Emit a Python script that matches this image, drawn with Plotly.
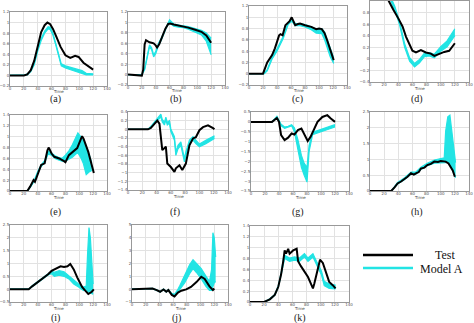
import plotly.graph_objects as go

W, H = 474, 323
CYAN = '#22e4e4'
BLACK = '#000000'

# ---------------- data ----------------
A_T = [0, 20, 25, 30, 35, 40, 45, 50, 54, 58, 62, 67, 73, 80, 87, 94, 99, 106, 113, 120]
A_TEST = [0, 0, 0.02, 0.1, 0.28, 0.58, 0.82, 0.95, 1.0, 0.97, 0.88, 0.73, 0.54, 0.38, 0.33, 0.37, 0.35, 0.24, 0.18, 0.11]
A_MT = [0, 20, 25, 30, 35, 40, 45, 50, 55, 58, 62, 66, 70, 74, 80, 87, 97, 104, 110, 120]
A_LO = [0, 0, 0.01, 0.07, 0.2, 0.46, 0.66, 0.8, 0.88, 0.87, 0.76, 0.58, 0.36, 0.18, 0.14, 0.11, 0.08, 0.05, 0.01, 0.01]
A_HI = [0, 0, 0.03, 0.09, 0.24, 0.5, 0.7, 0.84, 0.92, 0.91, 0.8, 0.62, 0.4, 0.22, 0.18, 0.15, 0.12, 0.09, 0.04, 0.03]

B_T = [0, 20, 22, 24, 26, 28, 31, 34, 37, 40, 42, 45, 49, 54, 58, 61, 66, 73, 80, 87, 97, 106, 113, 120]
B_TEST = [0, -0.02, 0.1, 0.58, 0.66, 0.64, 0.62, 0.61, 0.6, 0.56, 0.52, 0.58, 0.71, 0.88, 0.97, 0.98, 0.96, 0.94, 0.93, 0.9, 0.86, 0.82, 0.75, 0.61]
B_MT = [0, 20, 24, 28, 31, 34, 37, 40, 44, 48, 52, 56, 60, 63, 66, 73, 80, 87, 97, 106, 113, 120]
B_LO = [0, 0, 0.09, 0.33, 0.53, 0.48, 0.34, 0.4, 0.56, 0.66, 0.78, 0.92, 0.99, 0.95, 0.93, 0.91, 0.9, 0.87, 0.82, 0.76, 0.64, 0.38]
B_HI = [0, 0, 0.11, 0.37, 0.57, 0.52, 0.38, 0.44, 0.6, 0.7, 0.82, 0.96, 1.05, 1.01, 0.97, 0.95, 0.94, 0.92, 0.88, 0.85, 0.8, 0.7]

C_T = [0, 20, 26, 33, 37, 40, 43, 45, 48, 52, 55, 58, 61, 63, 66, 70, 73, 80, 89, 96, 100, 104, 108, 112, 116, 121]
C_TEST = [0, 0, 0.2, 0.33, 0.45, 0.58, 0.68, 0.7, 0.68, 0.86, 0.9, 0.93, 1.0, 0.94, 0.86, 0.88, 0.89, 0.86, 0.83, 0.79, 0.8, 0.79, 0.72, 0.58, 0.42, 0.24]
C_MT = [0, 20, 22, 26, 33, 40, 49, 56, 61, 66, 73, 80, 89, 96, 104, 108, 112, 116, 121]
C_LO = [0, 0, 0.0, 0.05, 0.26, 0.4, 0.63, 0.87, 0.93, 0.85, 0.85, 0.83, 0.78, 0.72, 0.71, 0.6, 0.44, 0.3, 0.18]
C_HI = [0, 0, 0.02, 0.07, 0.3, 0.44, 0.67, 0.91, 0.97, 0.89, 0.89, 0.87, 0.83, 0.79, 0.8, 0.74, 0.6, 0.44, 0.28]

D_T = [20, 26, 33, 40, 46, 51, 56, 60, 65, 72, 79, 86, 91, 98, 105, 112, 120]
D_TEST = [1.15, 1.0, 0.85, 0.7, 0.56, 0.38, 0.23, 0.14, 0.11, 0.15, 0.11, 0.09, 0.05, 0.09, 0.12, 0.14, 0.27]
D_MT = [25, 30, 35, 42, 49, 56, 63, 70, 77, 84, 91, 100, 109, 120]
D_LO = [1.12, 0.97, 0.85, 0.58, 0.2, -0.04, -0.14, -0.07, 0.04, 0.05, 0.02, 0.13, 0.21, 0.4]
D_HI = [1.18, 1.03, 0.91, 0.64, 0.26, 0.02, -0.08, -0.01, 0.1, 0.11, 0.08, 0.21, 0.31, 0.52]

E_T = [0, 25, 29, 34, 36, 41, 45, 50, 54, 56, 60, 64, 71, 78, 80, 85, 90, 97, 104, 106, 113, 121]
E_TEST = [0, 0, 0.08, 0.2, 0.17, 0.36, 0.48, 0.51, 0.75, 0.8, 0.69, 0.63, 0.6, 0.55, 0.53, 0.66, 0.72, 0.79, 1.01, 0.97, 0.72, 0.33]
E_MT = [0, 25, 30, 35, 40, 45, 50, 55, 60, 65, 70, 75, 80, 85, 90, 95, 98, 102, 106, 110, 114, 118]
E_LO = [0, 0, 0.08, 0.18, 0.33, 0.45, 0.52, 0.68, 0.66, 0.6, 0.57, 0.55, 0.55, 0.58, 0.62, 0.68, 0.7, 0.62, 0.5, 0.3, 0.35, 0.38]
E_HI = [0, 0, 0.1, 0.2, 0.36, 0.48, 0.56, 0.74, 0.7, 0.65, 0.62, 0.6, 0.66, 0.74, 0.85, 0.98, 1.07, 1.0, 0.92, 0.78, 0.68, 0.52]

F_T = [0, 28, 32, 37, 41, 44, 46, 48, 53, 55, 60, 65, 67, 72, 76, 81, 86, 91, 95, 100, 105, 112, 119, 121]
F_TEST = [0, 0, 0.03, 0.13, 0.2, 0.13, -0.18, -0.48, -0.4, -0.79, -0.87, -0.98, -0.9, -0.83, -0.94, -0.79, -0.37, -0.21, -0.18, -0.02, 0.05, 0.09, 0.03, 0.0]
F_MT = [0, 28, 34, 41, 46, 48, 51, 53, 55, 58, 60, 65, 67, 70, 74, 79, 81, 86, 91, 95, 100, 109, 121]
F_LO = [0, 0, 0.07, 0.2, 0.29, 0.17, 0.1, 0.22, 0.1, 0.14, -0.05, -0.25, -0.6, -0.45, -0.37, -0.75, -0.6, -0.33, -0.25, -0.33, -0.4, -0.33, -0.21]
F_HI = [0, 0, 0.11, 0.26, 0.35, 0.23, 0.16, 0.28, 0.16, 0.2, 0.01, -0.17, -0.52, -0.37, -0.29, -0.67, -0.52, -0.25, -0.17, -0.25, -0.34, -0.25, -0.15]

G_T = [0, 30, 37, 40, 43, 48, 53, 58, 62, 67, 72, 76, 81, 85, 90, 95, 102, 109, 114, 120]
G_TEST = [0, 0, 0.2, 0, -0.67, -0.92, -0.8, -0.59, -0.64, -0.42, -0.34, -0.59, -0.97, -0.76, -0.34, 0, 0.25, 0.34, 0.17, 0]
G_MT = [0, 30, 37, 43, 48, 53, 58, 62, 67, 72, 76, 80, 83, 88, 95, 102, 111, 120]
G_LO = [0, 0, 0.22, -0.2, -0.33, -0.28, -0.2, -0.5, -1.4, -2.3, -2.7, -3.05, -1.5, -0.65, -0.56, -0.48, -0.36, -0.26]
G_HI = [0, 0, 0.28, -0.12, -0.26, -0.22, -0.14, -0.3, -0.9, -1.7, -2.1, -2.3, -1.2, -0.52, -0.44, -0.36, -0.24, -0.14]

H_T = [0, 30, 35, 39, 44, 49, 53, 58, 62, 65, 69, 72, 77, 81, 86, 91, 96, 100, 104, 107, 111, 114, 117, 120]
H_TEST = [0, 0, 0.12, 0.24, 0.3, 0.38, 0.45, 0.56, 0.52, 0.56, 0.6, 0.71, 0.74, 0.82, 0.86, 0.93, 0.92, 0.95, 0.94, 0.93, 0.87, 0.77, 0.65, 0.45]
H_MT = [0, 30, 39, 49, 58, 65, 72, 81, 91, 100, 105, 107, 110, 113, 116, 119, 121]
H_LO = [0, 0, 0.22, 0.36, 0.53, 0.53, 0.68, 0.8, 0.88, 0.9, 0.9, 0.9, 0.95, 0.85, 0.7, 0.5, 0.42]
H_HI = [0, 0, 0.27, 0.42, 0.6, 0.6, 0.75, 0.88, 0.98, 1.03, 1.05, 1.9, 2.35, 2.4, 1.9, 1.3, 0.9]

I_T = [0, 27, 32, 36, 41, 46, 50, 55, 60, 64, 69, 73, 78, 83, 87, 92, 97, 104, 108, 113, 118, 121]
I_TEST = [0, 0, 0.11, 0.19, 0.31, 0.4, 0.46, 0.58, 0.71, 0.77, 0.85, 0.89, 0.86, 0.89, 0.98, 0.77, 0.46, 0.09, -0.04, -0.19, -0.1, -0.01]
I_MT = [0, 27, 32, 36, 41, 46, 50, 55, 60, 64, 71, 78, 85, 92, 99, 106, 110, 112, 114, 116, 118, 120]
I_LO = [0, 0, 0.09, 0.17, 0.29, 0.38, 0.44, 0.55, 0.6, 0.5, 0.55, 0.5, 0.4, 0.2, 0.08, -0.05, 0.0, -0.1, -0.12, -0.15, -0.2, -0.2]
I_HI = [0, 0, 0.13, 0.21, 0.33, 0.42, 0.48, 0.6, 0.7, 0.66, 0.72, 0.68, 0.52, 0.33, 0.2, 0.08, 0.12, 1.4, 2.4, 2.0, 1.2, 0.2]

J_T = [0, 30, 36, 41, 46, 50, 53, 58, 62, 67, 72, 79, 86, 94, 101, 106, 113, 118, 120]
J_TEST = [0, 0.05, -0.07, -0.2, -0.02, -0.2, -0.07, -0.45, -0.57, -0.27, -0.12, -0.02, 0.17, 0.55, 0.97, 0.8, 0.22, -0.07, 0.05]
J_MT = [0, 30, 36, 41, 46, 50, 53, 58, 62, 66, 70, 77, 84, 89, 94, 101, 108, 113, 116, 118, 120, 122]
J_LO = [0, 0.03, -0.1, -0.22, -0.05, -0.22, -0.1, -0.4, -0.5, -0.3, 0.0, 0.5, 1.2, 1.6, 1.3, 0.8, 0.2, -0.1, -0.1, 0.3, 0.5, 0.6]
J_HI = [0, 0.07, -0.04, -0.18, 0.01, -0.18, -0.04, -0.33, -0.4, -0.1, 0.3, 1.1, 1.9, 2.3, 2.0, 1.6, 1.0, 0.6, 1.5, 4.4, 4.0, 2.5]

K_T = [0, 20, 28, 35, 40, 44, 47, 49, 51, 54, 56, 61, 66, 68, 72, 77, 82, 87, 89, 91, 96, 99, 103, 108, 112, 117, 121]
K_TEST = [0, 0, 0.05, 0.13, 0.28, 0.51, 0.75, 0.95, 0.89, 0.98, 0.89, 0.95, 0.98, 0.75, 0.66, 0.57, 0.46, 0.31, 0.25, 0.34, 0.63, 0.78, 0.72, 0.51, 0.37, 0.31, 0.25]
K_MT = [0, 20, 28, 35, 40, 44, 47, 49, 56, 63, 70, 77, 82, 89, 94, 101, 105, 112, 121]
K_LO = [0, 0, 0.04, 0.12, 0.27, 0.5, 0.72, 0.8, 0.75, 0.77, 0.75, 0.83, 0.75, 0.83, 0.69, 0.5, 0.3, 0.25, 0.24]
K_HI = [0, 0, 0.06, 0.14, 0.3, 0.53, 0.78, 0.86, 0.81, 0.83, 0.81, 0.89, 0.81, 0.89, 0.75, 0.57, 0.38, 0.33, 0.31]

PANEL_LABELS = ['(a)', '(b)', '(c)', '(d)', '(e)', '(f)', '(g)', '(h)', '(i)', '(j)', '(k)']
LEGEND_NAMES = ['Test', 'Model A']
X_TITLE = 'Time'

# ---------------- layout (pixels) ----------------
panels = [
    (A_T, A_TEST, A_MT, A_LO, A_HI, (-0.2, 1.2), 0.2, (10, 12, 107, 86), (55, 99)),
    (B_T, B_TEST, B_MT, B_LO, B_HI, (-0.2, 1.2), 0.2, (128, 12, 225, 85), (176, 99)),
    (C_T, C_TEST, C_MT, C_LO, C_HI, (-0.2, 1.2), 0.2, (249, 6, 347, 85), (297, 99)),
    (D_T, D_TEST, D_MT, D_LO, D_HI, (-0.4, 1.0), 0.2, (370, 1, 469, 82), (417, 99)),
    (E_T, E_TEST, E_MT, E_LO, E_HI, (0, 1.4), 0.2, (10, 115, 107, 191), (55, 212)),
    (F_T, F_TEST, F_MT, F_LO, F_HI, (-1.4, 0.4), 0.2, (128, 112, 228, 190), (175, 212)),
    (G_T, G_TEST, G_MT, G_LO, G_HI, (-3.5, 0.5), 0.5, (251, 112, 349, 191), (298, 212)),
    (H_T, H_TEST, H_MT, H_LO, H_HI, (0, 2.5), 0.5, (370, 112, 469, 191), (417, 212)),
    (I_T, I_TEST, I_MT, I_LO, I_HI, (-0.5, 2.5), 0.5, (10, 225, 107, 302), (55, 318)),
    (J_T, J_TEST, J_MT, J_LO, J_HI, (-1, 5), 1, (132, 225, 228, 302), (176, 318)),
    (K_T, K_TEST, K_MT, K_LO, K_HI, (0, 1.4), 0.2, (250, 226, 349, 302), (300, 318)),
]

fig = go.Figure()
annotations = []
for i, (t, y, mt, lo, hi, yr, dt, box, lab) in enumerate(panels):
    sfx = '' if i == 0 else str(i + 1)
    xa, ya = 'x' + sfx, 'y' + sfx
    fig.add_trace(go.Scatter(x=mt, y=lo, mode='lines', line=dict(color=CYAN, width=1.2),
                             xaxis=xa, yaxis=ya, hoverinfo='skip'))
    fig.add_trace(go.Scatter(x=mt, y=hi, mode='lines', line=dict(color=CYAN, width=1.2),
                             fill='tonexty', fillcolor=CYAN, xaxis=xa, yaxis=ya, hoverinfo='skip'))
    fig.add_trace(go.Scatter(x=t, y=y, mode='lines', line=dict(color=BLACK, width=2),
                             xaxis=xa, yaxis=ya, hoverinfo='skip'))
    x0, y0, x1, y1 = box
    common = dict(showline=True, mirror=True, linecolor='#999', linewidth=1,
                  showgrid=True, gridcolor='#e2e2e2', gridwidth=1, zeroline=False,
                  tickfont=dict(size=4, color='#555', family='DejaVu Sans'), ticks='')
    fig.layout['xaxis' + sfx] = dict(domain=[x0 / W, x1 / W], range=[0, 140], dtick=20, tick0=0,
                                     anchor=ya, automargin=False, ticklabelstandoff=-2, **common)
    fig.layout['yaxis' + sfx] = dict(domain=[1 - y1 / H, 1 - y0 / H], range=list(yr), dtick=dt, tick0=0,
                                     anchor=xa, automargin=False, ticklabelstandoff=-1, **common)
    annotations.append(dict(x=(x0 + x1) / 2 / W, y=1 - (y1 + 6) / H, xref='paper', yref='paper',
                            text=X_TITLE, showarrow=False, xanchor='center', yanchor='middle',
                            font=dict(size=4, color='#444', family='DejaVu Sans')))
    annotations.append(dict(x=lab[0] / W, y=1 - lab[1] / H, xref='paper', yref='paper',
                            text=PANEL_LABELS[i], showarrow=False, xanchor='center', yanchor='middle',
                            font=dict(family='Liberation Serif', size=10, color='#222')))

# legend drawn in paper space
shapes = [
    dict(type='line', xref='paper', yref='paper', x0=363 / W, x1=413 / W, y0=1 - 255 / H, y1=1 - 255 / H,
         line=dict(color=BLACK, width=2.5)),
    dict(type='line', xref='paper', yref='paper', x0=363 / W, x1=413 / W, y0=1 - 268 / H, y1=1 - 268 / H,
         line=dict(color=CYAN, width=2.5)),
]
annotations.append(dict(x=445 / W, y=1 - 255 / H, xref='paper', yref='paper', text=LEGEND_NAMES[0],
                        showarrow=False, xanchor='center', yanchor='middle',
                        font=dict(family='Liberation Serif', size=12, color='#111')))
annotations.append(dict(x=441 / W, y=1 - 269 / H, xref='paper', yref='paper', text=LEGEND_NAMES[1],
                        showarrow=False, xanchor='center', yanchor='middle',
                        font=dict(family='Liberation Serif', size=12, color='#111')))

fig.update_layout(width=W, height=H, margin=dict(l=0, r=0, t=0, b=0),
                  plot_bgcolor='white', paper_bgcolor='white', showlegend=False,
                  annotations=annotations, shapes=shapes)
fig.write_html('out.html')
